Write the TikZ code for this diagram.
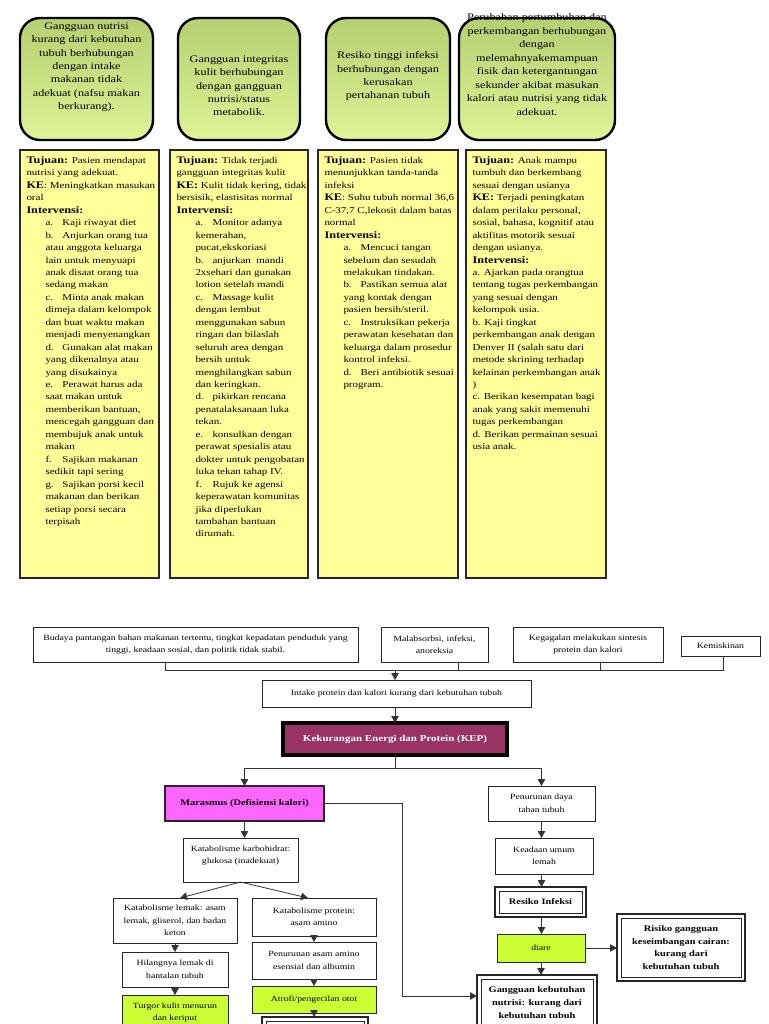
\documentclass[tikz,border=0pt]{standalone}
\usepackage{fontspec}
\setmainfont{Liberation Serif}[FakeStretch=1.22]
\usetikzlibrary{arrows.meta}
\definecolor{yfill}{RGB}{255,255,153}
\definecolor{gtop}{RGB}{182,207,112}
\definecolor{gbot}{RGB}{222,244,150}
\definecolor{kepc}{RGB}{153,51,102}
\definecolor{marac}{RGB}{255,102,255}
\definecolor{limec}{RGB}{204,255,51}
\newcommand\gtext[4]{\parbox[c][122pt][t]{#1}{\vspace*{#2}\centering\fontsize{10}{#3}\selectfont #4}}
\newcommand\ytext[2]{\parbox[c][428pt][t]{#1}{\vspace*{6.5pt}\fontsize{9}{12.45}\selectfont\leftskip=6.5pt\relax #2}}
\newcommand\yl[1]{\mbox{#1}\par}
\newcommand\yi[1]{\mbox{\hspace*{19pt}#1}\par}
\newcommand\yit[2]{\mbox{\hspace*{19pt}\makebox[17pt][l]{#1}#2}\par}
\newcommand\lb[1]{{\fontsize{10}{12.45}\selectfont\bfseries #1}}
\tikzset{
 gbox/.style={draw=black, line width=2.4pt, rounded corners=20pt, top color=gtop, bottom color=gbot, inner sep=0pt, outer sep=0pt},
 ybox/.style={draw=black!85, line width=1.4pt, fill=yfill, inner sep=0pt, outer sep=0pt},
 fbox/.style={draw=black!85, line width=0.9pt, fill=white, inner sep=1pt, outer sep=0pt, align=center, font=\fontsize{8}{12.5}\selectfont},
 dbox/.style={fbox, line width=2.4pt, font=\fontsize{8.5}{12.8}\selectfont\bfseries},
 inner/.style={draw=black!85, line width=0.7pt},
 conn/.style={draw=black!80, line width=0.8pt},
 arr/.style={conn, -{Triangle[width=7.5pt,length=7pt]}},
}
\begin{document}
\begin{tikzpicture}[x=1pt,y=-1pt]
\useasboundingbox (0,0) rectangle (768,1024);
\clip (0,0) rectangle (768,1024);
\fill[white] (0,0) rectangle (768,1024);

% ---------- green diagnosis boxes ----------
\node[gbox, minimum width=133pt, minimum height=122pt] (g1) at (86.5,79)
 {\gtext{129pt}{4.7pt}{13.4}{Gangguan nutrisi\\kurang dari kebutuhan\\tubuh berhubungan\\dengan intake\\makanan tidak\\adekuat (nafsu makan\\berkurang).}};
\node[gbox, minimum width=122pt, minimum height=122pt] (g2) at (239,79)
 {\gtext{118pt}{37.7pt}{13.4}{Gangguan integritas\\kulit berhubungan\\dengan gangguan\\nutrisi/status\\metabolik.}};
\node[gbox, minimum width=124pt, minimum height=122pt] (g3) at (388,79)
 {\gtext{120pt}{33.7pt}{13.4}{Resiko tinggi infeksi\\berhubungan dengan\\kerusakan\\pertahanan tubuh}};
\node[gbox, minimum width=156pt, minimum height=122pt] (g4) at (537,79)
 {\gtext{152pt}{-4.3pt}{13.5}{Perubahan pertumbuhan dan\\perkembangan berhubungan\\dengan\\melemahnyakemampuan\\fisik dan ketergantungan\\sekunder akibat masukan\\kalori atau nutrisi yang tidak\\adekuat.}};

% ---------- yellow plan boxes ----------
\node[ybox, minimum width=139pt, minimum height=428pt] (y1) at (89.5,364) {\ytext{139pt}{%
\yl{\lb{Tujuan:} Pasien mendapat}
\yl{nutrisi yang adekuat.}
\yl{\lb{KE}: Meningkatkan masukan}
\yl{oral}
\yl{\lb{Intervensi:}}
\yit{a.}{Kaji riwayat diet}
\yit{b.}{Anjurkan orang tua}
\yi{atau anggota keluarga}
\yi{lain untuk menyuapi}
\yi{anak disaat orang tua}
\yi{sedang makan}
\yit{c.}{Minta anak makan}
\yi{dimeja dalam kelompok}
\yi{dan buat waktu makan}
\yi{menjadi menyenangkan}
\yit{d.}{Gunakan alat makan}
\yi{yang dikenalnya atau}
\yi{yang disukainya}
\yit{e.}{Perawat harus ada}
\yi{saat makan untuk}
\yi{memberikan bantuan,}
\yi{mencegah gangguan dan}
\yi{membujuk anak untuk}
\yi{makan}
\yit{f.}{Sajikan makanan}
\yi{sedikit tapi sering}
\yit{g.}{Sajikan porsi kecil}
\yi{makanan dan berikan}
\yi{setiap porsi secara}
\yi{terpisah}}};

\node[ybox, minimum width=138pt, minimum height=428pt] (y2) at (239,364) {\ytext{138pt}{%
\yl{\lb{Tujuan:} Tidak terjadi}
\yl{gangguan integritas kulit}
\yl{\lb{KE:} Kulit tidak kering, tidak}
\yl{bersisik, elastisitas normal}
\yl{\lb{Intervensi:}}
\yit{a.}{Monitor adanya}
\yi{kemerahan,}
\yi{pucat,ekskoriasi}
\yit{b.}{anjurkan~ mandi}
\yi{2xsehari dan gunakan}
\yi{lotion setelah mandi}
\yit{c.}{Massage kulit}
\yi{dengan lembut}
\yi{menggunakan sabun}
\yi{ringan dan bilaslah}
\yi{seluruh area dengan}
\yi{bersih untuk}
\yi{menghilangkan sabun}
\yi{dan keringkan.}
\yit{d.}{pikirkan rencana}
\yi{penatalaksanaan luka}
\yi{tekan.}
\yit{e.}{konsulkan dengan}
\yi{perawat spesialis atau}
\yi{dokter untuk pengobatan}
\yi{luka tekan tahap IV.}
\yit{f.}{Rujuk ke agensi}
\yi{keperawatan komunitas}
\yi{jika diperlukan}
\yi{tambahan bantuan}
\yi{dirumah.}}};

\node[ybox, minimum width=140pt, minimum height=428pt] (y3) at (388,364) {\ytext{140pt}{%
\yl{\lb{Tujuan:} Pasien tidak}
\yl{menunjukkan tanda-tanda}
\yl{infeksi}
\yl{\lb{KE}: Suhu tubuh normal 36,6}
\yl{C-37,7 C,lekosit dalam batas}
\yl{normal}
\yl{\lb{Intervensi:}}
\yit{a.}{Mencuci tangan}
\yi{sebelum dan sesudah}
\yi{melakukan tindakan.}
\yit{b.}{Pastikan semua alat}
\yi{yang kontak dengan}
\yi{pasien bersih/steril.}
\yit{c.}{Instruksikan pekerja}
\yi{perawatan kesehatan dan}
\yi{keluarga dalam prosedur}
\yi{kontrol infeksi.}
\yit{d.}{Beri antibiotik sesuai}
\yi{program.}}};

\node[ybox, minimum width=140pt, minimum height=428pt] (y4) at (536,364) {\ytext{140pt}{%
\yl{\lb{Tujuan:} Anak mampu}
\yl{tumbuh dan berkembang}
\yl{sesuai dengan usianya}
\yl{\lb{KE:} Terjadi peningkatan}
\yl{dalam perilaku personal,}
\yl{sosial, bahasa, kognitif atau}
\yl{aktifitas motorik sesuai}
\yl{dengan usianya.}
\yl{\lb{Intervensi:}}
\yl{a. Ajarkan pada orangtua}
\yl{tentang tugas perkembangan}
\yl{yang sesuai dengan}
\yl{kelompok usia.}
\yl{b. Kaji tingkat}
\yl{perkembangan anak dengan}
\yl{Denver II (salah satu dari}
\yl{metode skrining terhadap}
\yl{kelainan perkembangan anak}
\yl{)}
\yl{c. Berikan kesempatan bagi}
\yl{anak yang sakit memenuhi}
\yl{tugas perkembangan}
\yl{d. Berikan permainan sesuai}
\yl{usia anak.}}};

% ---------- flowchart ----------
\node[fbox, minimum width=325pt, minimum height=35pt] (b1) at (195.5,644.5)
 {Budaya pantangan bahan makanan tertentu, tingkat kepadatan penduduk yang\\tinggi, keadaan sosial, dan politik tidak stabil.};
\node[fbox, minimum width=107pt, minimum height=35pt] (b2) at (434.5,644.5)
 {Malabsorbsi, infeksi,\\anoreksia};
\node[fbox, minimum width=150pt, minimum height=35pt] (b3) at (588,644.5)
 {Kegagalan melakukan sintesis\\protein dan kalori};
\node[fbox, minimum width=79pt, minimum height=20pt] (b4) at (720.5,646) {Kemiskinan};

\node[fbox, minimum width=269pt, minimum height=27pt] (intake) at (396.5,693.5)
 {Intake protein dan kalori kurang dari kebutuhan tubuh};
\node[fbox, draw=black, line width=4pt, fill=kepc, text=white, font=\fontsize{9}{12}\selectfont\bfseries,
 minimum width=224pt, minimum height=32pt] (kep) at (395,739) {Kekurangan Energi dan Protein (KEP)};

\node[fbox, fill=marac, line width=1.3pt, font=\fontsize{8.5}{12}\selectfont\bfseries,
 minimum width=159pt, minimum height=35pt] (mara) at (244.5,803.5) {Marasmus (Defisiensi kalori)};
\node[fbox, minimum width=107pt, minimum height=35pt] (pen) at (541.5,803.5) {Penurunan daya\\tahan tubuh};

\node[fbox, inner sep=0pt, minimum width=115pt, minimum height=44pt] (karbo) at (240.5,860)
 {\parbox[c][44pt][t]{113pt}{\vspace*{7.5pt}\centering Katabolisme karbohidrat:\\glukosa (inadekuat)}};
\node[fbox, minimum width=124pt, minimum height=45pt] (lemak) at (175,920.5)
 {Katabolisme lemak: asam\\lemak, gliserol, dan badan\\keton};
\node[fbox, minimum width=124pt, minimum height=38pt] (prot) at (314,917)
 {Katabolisme protein:\\asam amino};
\node[fbox, minimum width=106pt, minimum height=35pt] (hil) at (175,969.5)
 {Hilangnya lemak di\\bantalan tubuh};
\node[fbox, fill=limec, minimum width=106pt, minimum height=35pt] (turgor) at (175,1012.5)
 {Turgor kulit menurun\\dan keriput};
\node[fbox, minimum width=124pt, minimum height=37pt] (pasam) at (314,960.5)
 {Penurunan asam amino\\esensial dan albumin};
\node[fbox, fill=limec, minimum width=124pt, minimum height=27pt] (atrofi) at (314,999.5)
 {Atrofi/pengecilan otot};
\node[dbox, minimum width=106pt, minimum height=28pt] (dlast) at (315,1031) {};
\draw[inner] ([shift={(4pt,-4pt)}]dlast.north west) rectangle ([shift={(-4pt,4pt)}]dlast.south east);

\node[fbox, minimum width=98pt, minimum height=36pt] (kead) at (544,856) {Keadaan umum\\lemah};
\node[dbox, minimum width=91pt, minimum height=30pt] (resiko) at (540.5,902) {Resiko Infeksi};
\draw[inner] ([shift={(4pt,-4pt)}]resiko.north west) rectangle ([shift={(-4pt,4pt)}]resiko.south east);
\node[fbox, fill=limec, minimum width=88pt, minimum height=28pt] (diare) at (541,948) {diare};
\node[dbox, minimum width=128pt, minimum height=67pt] (risiko) at (681,947.5)
 {Risiko gangguan\\keseimbangan cairan:\\kurang dari\\kebutuhan tubuh};
\draw[inner] ([shift={(4pt,-4pt)}]risiko.north west) rectangle ([shift={(-4pt,4pt)}]risiko.south east);
\node[dbox, minimum width=120pt, minimum height=55pt] (gang) at (537,1002.5)
 {Gangguan kebutuhan\\nutrisi: kurang dari\\kebutuhan tubuh};
\draw[inner] ([shift={(4pt,-4pt)}]gang.north west) rectangle ([shift={(-4pt,4pt)}]gang.south east);

% ---------- connectors ----------
\coordinate (j1) at (165,670);
\coordinate (j2) at (458,670);
\coordinate (j3) at (600,670);
\coordinate (j4) at (723,670);
\coordinate (jm) at (395,670);
\draw[conn] (b1.south -| j1) -- (j1) -- (j4) -- (b4.south -| j4);
\draw[conn] (b2.south -| j2) -- (j2);
\draw[conn] (b3.south -| j3) -- (j3);
\draw[arr] (jm) -- (intake.north -| jm);
\draw[arr] (intake.south -| kep.north) -- (kep.north);
\coordinate (ks) at (395,768);
\draw[conn] (kep.south) -- (ks);
\draw[arr] (ks) -| (mara.north);
\draw[arr] (ks) -| (pen.north);
\coordinate (mc) at (402,996);
\draw[arr] (mara.east) -| (mc) -- (mc -| gang.west);
\draw[arr] (mara.south) -- (mara.south |- karbo.north);
\draw[arr] (karbo.south) -- ([xshift=5pt]lemak.north);
\draw[arr] (karbo.south) -- ([xshift=-6pt]prot.north);
\draw[arr] (lemak.south) -- (lemak.south |- hil.north);
\draw[arr] (hil.south) -- (hil.south |- turgor.north);
\draw[arr] (prot.south) -- (prot.south |- pasam.north);
\draw[arr] (pasam.south) -- (pasam.south |- atrofi.north);
\draw[arr] (atrofi.south) -- (atrofi.south |- dlast.north);
\draw[arr] (pen.south) -- (pen.south |- kead.north);
\draw[arr] (pen.south |- kead.south) -- (pen.south |- resiko.north);
\draw[arr] (pen.south |- resiko.south) -- (pen.south |- diare.north);
\draw[arr] (diare.east) -- (diare.east -| risiko.west);
\draw[arr] (diare.south) -- (diare.south |- gang.north);
\end{tikzpicture}
\end{document}
